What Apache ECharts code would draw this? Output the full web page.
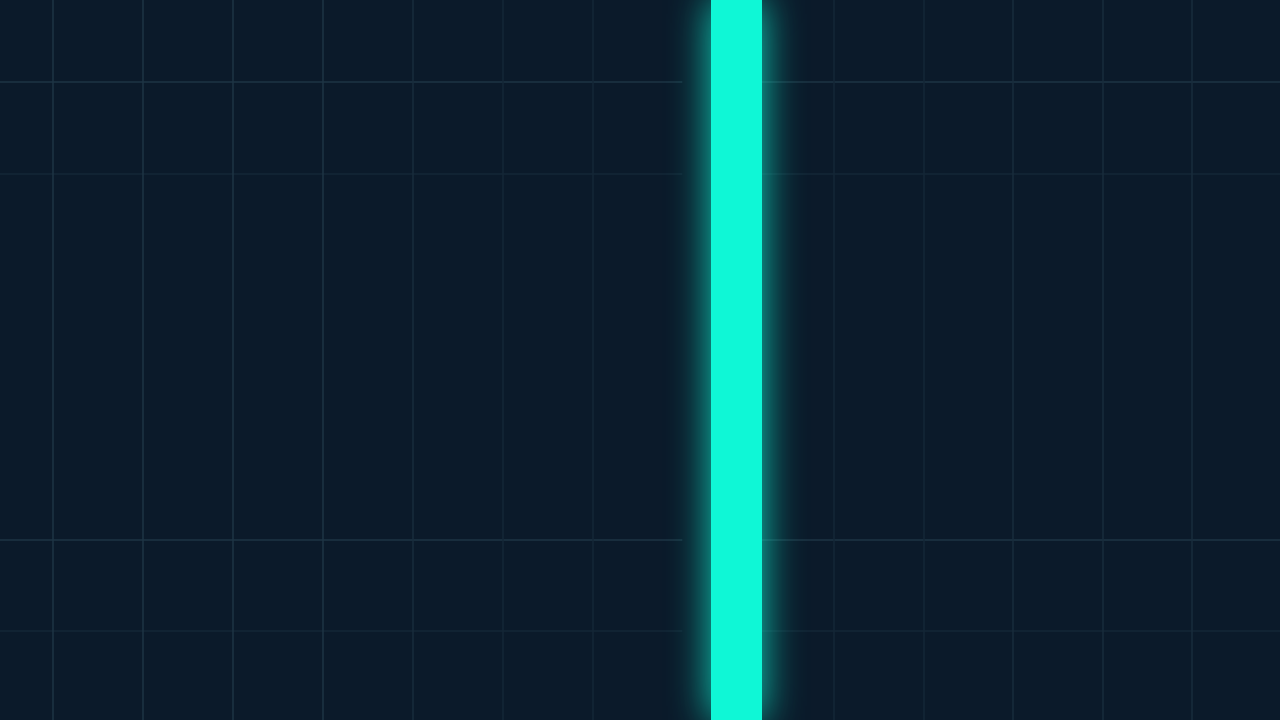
<!DOCTYPE html>
<html>
<head>
<meta charset="utf-8">
<script src="https://cdn.jsdelivr.net/npm/echarts@6/dist/echarts.min.js"></script>
<style>
html,body{margin:0;padding:0;background:#0b1a2a;}
#chart{width:1280px;height:720px;}
</style>
</head>
<body>
<div id="chart"></div>
<script>
// Data
const barCategories = ['Signal'];
const barValues = [100];
const valueMax = 100;
// Grid scales (units of one grid cell)
const leftCells = [0, 8];
const rightCells = [0, 7];
const rowCells = [0, 8];

const BG = '#0b1a2a';
const LINE_BRIGHT = '#1e3444';
const LINE_MID = '#192d3d';
const LINE_FAINT = '#142737';
const NONE = 'rgba(0,0,0,0)';

const hidden = { axisLine: { show: false }, axisTick: { show: false }, axisLabel: { show: false } };

function vAxis(gridIndex, range, colors) {
  return Object.assign({
    type: 'value', gridIndex: gridIndex, min: range[0], max: range[1], interval: 1,
    splitLine: { show: true, showMaxLine: false, lineStyle: { color: colors, width: 1.5 } }
  }, hidden);
}
function hAxis(gridIndex) {
  return Object.assign({
    type: 'value', gridIndex: gridIndex, min: rowCells[0], max: rowCells[1], interval: 1,
    splitLine: { show: true, lineStyle: { color: [NONE, LINE_FAINT, LINE_BRIGHT, NONE, NONE, NONE, LINE_FAINT, LINE_BRIGHT, NONE], width: 1.5 } }
  }, hidden);
}

const chart = echarts.init(document.getElementById('chart'));
chart.setOption({
  backgroundColor: BG,
  animation: false,
  grid: [
    { left: -36.9, top: -9.5, width: 719.2, height: 732, outerBoundsMode: 'none', containLabel: false },
    { left: 744.5, top: -9.5, width: 626.5, height: 732, outerBoundsMode: 'none', containLabel: false },
    { left: 711, top: 0, width: 51, height: 720, outerBoundsMode: 'none', containLabel: false }
  ],
  xAxis: [
    vAxis(0, leftCells, [NONE, LINE_BRIGHT, LINE_BRIGHT, LINE_BRIGHT, LINE_BRIGHT, LINE_MID, LINE_FAINT, LINE_FAINT, LINE_FAINT]),
    vAxis(1, rightCells, [NONE, LINE_FAINT, LINE_FAINT, LINE_MID, LINE_MID, LINE_MID, NONE, NONE]),
    Object.assign({ type: 'category', gridIndex: 2, data: barCategories, boundaryGap: true, splitLine: { show: false } }, hidden)
  ],
  yAxis: [
    hAxis(0),
    hAxis(1),
    Object.assign({ type: 'value', gridIndex: 2, min: 0, max: valueMax, splitLine: { show: false } }, hidden)
  ],
  series: [{
    type: 'bar',
    xAxisIndex: 2,
    yAxisIndex: 2,
    data: barValues,
    barWidth: '100%',
    z: 5,
    itemStyle: {
      color: '#0ff7d6',
      shadowBlur: 40,
      shadowColor: 'rgba(15,247,214,0.85)'
    }
  }]
});
</script>
</body>
</html>
